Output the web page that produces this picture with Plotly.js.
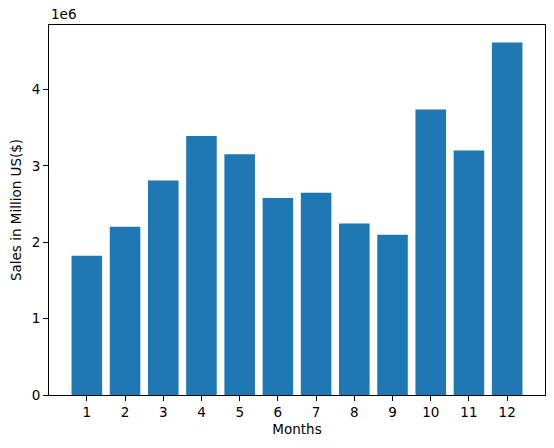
<!DOCTYPE html>
<html>
<head>
<meta charset="utf-8">
<script src="https://cdn.plot.ly/plotly-3.0.1.min.js"></script>
<style>html,body{margin:0;padding:0;background:#fff;}#chart{width:554px;height:448px;}</style>
</head>
<body>
<div id="chart"></div>
<script>
var months = [1,2,3,4,5,6,7,8,9,10,11,12];
var sales = [1822257, 2202022, 2807100, 3390670, 3152607, 2577802, 2647776, 2244468, 2097560, 3736727, 3199603, 4613443];
var yTickVals = [0, 1e6, 2e6, 3e6, 4e6];
var yTickText = ['0','1','2','3','4'];

var font = {family: 'DejaVu Sans, sans-serif', size: 13.5, color: '#000'};
var maxV = Math.max.apply(null, sales);

Plotly.newPlot('chart', [{
  type: 'bar',
  x: months,
  y: sales,
  width: 0.8,
  marker: {color: '#1f77b4', line: {width: 0}},
  hoverinfo: 'none'
}], {
  width: 554, height: 448,
  margin: {l: 49, r: 9, t: 25, b: 53},
  paper_bgcolor: '#fff', plot_bgcolor: '#fff',
  font: font,
  showlegend: false,
  xaxis: {
    range: [0.01, 12.99],
    tickvals: months,
    ticktext: months.map(String),
    ticks: 'outside', ticklen: 5, tickwidth: 1, tickcolor: '#000',
    showgrid: false, zeroline: false,
    showline: true, linecolor: '#000', linewidth: 1, mirror: true,
    tickfont: font,
    title: {text: 'Months', font: font, standoff: 5}
  },
  yaxis: {
    range: [0, maxV * 1.05],
    tickvals: yTickVals,
    ticktext: yTickText,
    ticks: 'outside', ticklen: 5, tickwidth: 1, tickcolor: '#000',
    showgrid: false, zeroline: false,
    showline: true, linecolor: '#000', linewidth: 1, mirror: true,
    tickfont: font,
    title: {text: 'Sales in Million US($)', font: font, standoff: 6}
  },
  annotations: [{
    text: '1e6', xref: 'paper', yref: 'paper', x: 0, y: 1,
    xanchor: 'left', yanchor: 'bottom', yshift: 1, showarrow: false, font: font
  }]
}, {staticPlot: true});
</script>
</body>
</html>
